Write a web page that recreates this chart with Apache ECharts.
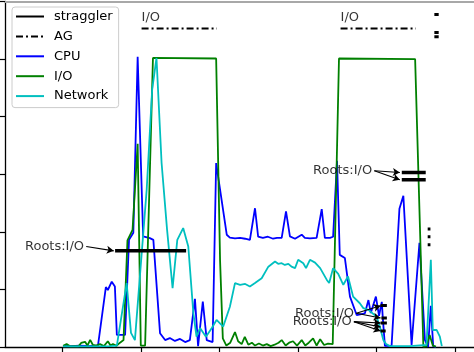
<!DOCTYPE html>
<html><head><meta charset="utf-8">
<script src="https://cdn.jsdelivr.net/npm/echarts@6/dist/echarts.min.js"></script>
<style>html,body{margin:0;padding:0;background:#fff}#c{width:474px;height:352px}</style>
</head><body><div id="c"></div>
<script>
const xTickValues = [20, 40, 60, 80, 100, 120];
const yTickValues = [0, 20, 40, 60, 80, 100, 120];
const legendNames = ['straggler', 'AG', 'CPU', 'I/O', 'Network'];

const cpu = [
[20.1,0.4],[21.9,0.3],[24.4,0.5],[27.0,0.3],[29.0,0.6],[29.5,0.7],[31.0,20.8],[31.5,19.8],[32.5,22.7],[33.3,21.0],[33.8,4.2],[35.9,4.2],[36.9,37.2],[38.0,39.7],[39.1,100.8],[40.5,38.4],[42.2,37.8],[43.1,37.2],[44.8,4.8],[46.1,2.4],[47.3,3.1],[48.6,2.1],[49.9,2.8],[51.2,1.7],[52.4,2.4],[53.7,16.7],[54.5,0.3],[55.7,15.8],[56.7,2.4],[58.2,1.7],[59.1,63.9],[61.8,39.0],[62.6,38.0],[63.9,37.7],[65.2,37.9],[66.5,37.6],[67.7,37.2],[69.0,48.2],[69.8,38.3],[71.0,37.9],[72.3,38.3],[73.6,37.6],[74.6,37.9],[75.8,37.9],[76.9,47.1],[77.9,38.4],[79.2,37.6],[80.9,39.0],[81.7,37.9],[83.0,37.7],[84.7,37.9],[86.0,47.9],[86.8,37.9],[88.1,37.9],[88.9,38.3],[89.9,64.7],[90.6,32.0],[91.9,30.9],[93.2,17.5],[94.9,11.1],[97.0,11.7],[97.9,16.3],[98.5,11.8],[99.8,17.5],[100.6,10.8],[101.3,15.7],[101.6,9.4],[102.1,0.4],[103.8,0.4],[105.8,48.0],[106.8,52.5],[108.9,0.7],[110.9,36.2],[112.3,2.4],[113.1,0.0],[113.8,14.3],[114.4,0.3],[115.1,0.0]
];

const io = [
[20.1,0.4],[21.0,1.0],[22.0,0.2],[23.0,0.3],[24.0,0.2],[24.7,1.4],[25.7,1.8],[26.3,0.5],[27.0,2.5],[27.7,0.7],[28.5,0.5],[29.5,1.0],[30.5,0.3],[31.5,2.0],[32.2,0.5],[32.8,1.0],[33.7,0.4],[34.6,1.5],[35.5,2.4],[36.5,37.0],[37.8,40.7],[39.1,70.6],[39.9,0.5],[41.0,0.5],[43.0,100.4],[59.1,100.2],[60.1,30.0],[60.8,3.0],[61.7,0.5],[62.7,1.5],[63.9,5.2],[64.7,2.0],[65.6,1.0],[66.4,3.5],[67.3,0.8],[68.2,1.5],[69.0,0.5],[70.0,1.2],[71.0,0.5],[72.0,1.0],[73.0,0.3],[74.0,0.8],[75.0,1.5],[75.8,2.4],[76.8,0.5],[77.7,1.5],[78.7,2.0],[79.7,0.5],[80.9,2.4],[81.8,0.5],[82.7,1.5],[83.8,3.0],[84.7,0.5],[85.6,2.7],[86.6,0.7],[87.6,1.2],[88.8,1.0],[90.4,100.2],[109.8,100.0],[111.9,0.1],[112.7,0.2],[113.5,4.2],[114.3,0.5],[115.1,0.1]
];

const network = [
[20.1,0.2],[27.0,0.2],[32.1,0.3],[33.8,0.5],[36.3,22.2],[37.4,4.9],[38.4,2.4],[41.4,54.6],[42.8,89.4],[43.9,100.4],[45.2,63.9],[46.6,40.7],[48.0,20.4],[49.2,37.2],[50.7,41.3],[52.0,34.9],[53.3,11.7],[54.1,3.6],[55.0,6.6],[56.5,3.6],[58.0,6.6],[59.2,9.4],[60.9,7.1],[62.6,14.0],[63.9,22.2],[65.2,21.6],[66.5,21.9],[67.7,21.0],[69.0,22.2],[70.7,23.9],[72.4,27.9],[74.1,29.7],[74.9,28.9],[75.8,29.1],[76.6,28.5],[77.5,28.9],[78.3,27.9],[79.2,27.4],[80.0,30.3],[81.3,29.1],[82.0,27.4],[83.0,30.3],[84.3,29.3],[85.6,27.4],[87.3,23.3],[87.9,22.2],[88.9,27.4],[90.2,25.4],[91.5,21.6],[92.7,24.5],[94.0,17.5],[95.7,15.2],[96.6,13.5],[97.9,12.9],[100.0,10.5],[100.8,7.1],[101.7,2.4],[102.4,1.0],[103.4,0.3],[108.5,0.3],[112.7,0.7],[113.8,30.3],[114.3,5.9],[115.3,5.9],[116.1,3.6],[116.6,0.3]
];

// straggler segments: [start, end, level]
const stragglerLong = [[33.35,51.45,33.4],[106.4,112.5,60.6],[106.4,112.5,58.1]];
const stragglerShort = [[101.0,102.6,14.4],[101.2,102.6,10.1],[101.0,102.6,8.3],[101.0,102.3,5.6],[113.0,113.7,41.0],[113.0,113.7,38.3],[113.0,113.7,35.5],[114.7,115.8,115.5],[114.7,115.8,109.2],[114.7,115.8,107.8]];
// AG segments: [start, end, level]
const agSegments = [[40.1,59.3,110.6],[90.8,110.0,110.6]];
const agLabels = ['I/O', 'I/O'];
// annotations
const annText = ['Roots:I/O', 'Roots:I/O', 'Roots:I/O', 'Roots:I/O'];
const annAt = [[25.7,34.9],[99.1,61.2],[94.5,11.7],[93.9,8.8]];
const annTargets = [[[33.0,33.4]],[[105.9,60.6],[105.9,58.1]],[[101.0,14.3],[101.0,10.1]],[[101.0,8.35],[101.0,6.96],[101.0,5.57]]];

const FONT = 'DejaVu Sans';
const series = [];
stragglerLong.forEach(s => series.push({
  name: 'straggler', type: 'line', symbol: 'none', silent: true, z: 6,
  data: [[s[0], s[2]], [s[1], s[2]]],
  lineStyle: {color: '#000', width: 3.5, cap: 'butt'}, itemStyle: {color: '#000'}
}));
stragglerShort.forEach(s => series.push({
  name: 'straggler', type: 'line', symbol: 'none', silent: true, z: 6,
  data: [[s[0], s[2]], [s[1], s[2]]],
  lineStyle: {color: '#000', width: 3, cap: 'butt'}, itemStyle: {color: '#000'}
}));
agSegments.forEach(s => series.push({
  name: 'AG', type: 'line', symbol: 'none', silent: true, z: 5,
  data: [[s[0], s[2]], [s[1], s[2]]],
  lineStyle: {color: '#000', width: 2, type: [7, 3, 2, 3]}, itemStyle: {color: '#000'}
}));
series.push({name: 'CPU', type: 'line', symbol: 'none', silent: true, z: 2, data: cpu,
  lineStyle: {color: '#0000ff', width: 1.8}, itemStyle: {color: '#0000ff'}});
series.push({name: 'I/O', type: 'line', symbol: 'none', silent: true, z: 3, data: io,
  lineStyle: {color: '#008000', width: 1.8}, itemStyle: {color: '#008000'}});
series.push({name: 'Network', type: 'line', symbol: 'none', silent: true, z: 4, data: network,
  lineStyle: {color: '#00bfbf', width: 1.8}, itemStyle: {color: '#00bfbf'}});

// AG labels
series.push({
  name: 'agLabel', type: 'scatter', symbolSize: 0, silent: true, z: 7,
  data: agSegments.map((s, i) => ({value: [s[0], s[2]], label: {formatter: agLabels[i]}})),
  label: {show: true, position: [0, -10.5], align: 'left', verticalAlign: 'middle',
    fontSize: 13, fontFamily: FONT, color: '#000'}
});
// annotations text + arrows
const arrowPairs = [];
annAt.forEach((a, i) => annTargets[i].forEach(t => arrowPairs.push([{coord: [a[0] + 0.3, a[1]]}, {coord: t}])));
series.push({
  name: 'ann', type: 'scatter', symbolSize: 0, silent: true, z: 7,
  data: annAt.map((a, i) => ({value: a, label: {formatter: annText[i]}})),
  label: {show: true, position: 'left', distance: 1, fontSize: 13, fontFamily: FONT, color: '#000'},
  markLine: {silent: true, symbol: ['none', 'arrow'], symbolSize: [6, 7], animation: false,
    label: {show: false}, lineStyle: {color: '#000', width: 1.1, type: 'solid'},
    emphasis: {disabled: true}, data: arrowPairs}
});

const chart = echarts.init(document.getElementById('c'), null, {renderer: 'canvas'});
chart.setOption({
  animation: false,
  backgroundColor: '#fff',
  grid: {left: 5, right: 0, top: 1.5, bottom: 5, containLabel: false},
  legend: {
    data: legendNames, orient: 'vertical', left: 12, top: 7,
    itemWidth: 28, itemHeight: 14, itemGap: 6.9,
    padding: [3, 6, 5, 3],
    borderColor: '#cccccc', borderWidth: 1, borderRadius: 3,
    backgroundColor: 'rgba(255,255,255,0.85)',
    itemStyle: {opacity: 0},
    textStyle: {fontSize: 13, fontFamily: FONT, color: '#000', padding: [0, 0, 0, 5]},
    selectedMode: false
  },
  xAxis: [{
    type: 'value', min: 5.3, max: 124.8, position: 'bottom',
    axisLine: {show: true, onZero: false, lineStyle: {color: '#000', width: 1.3}},
    axisTick: {show: true, customValues: xTickValues, length: 5, lineStyle: {color: '#000', width: 1.2}},
    axisLabel: {show: false}, splitLine: {show: false}
  }, {
    type: 'value', min: 5.3, max: 124.8, position: 'top',
    axisLine: {show: true, onZero: false, lineStyle: {color: '#a8a8a8', width: 2}},
    axisTick: {show: false}, axisLabel: {show: false}, splitLine: {show: false}
  }],
  yAxis: {
    type: 'value', min: 0, max: 120, interval: 20,
    axisLine: {show: true, onZero: false, lineStyle: {color: '#000', width: 1.3}},
    axisTick: {show: true, customValues: yTickValues, length: 5, lineStyle: {color: '#000', width: 1.2}},
    axisLabel: {show: false}, splitLine: {show: false}
  },
  tooltip: {show: false},
  series: series
});
</script></body></html>
